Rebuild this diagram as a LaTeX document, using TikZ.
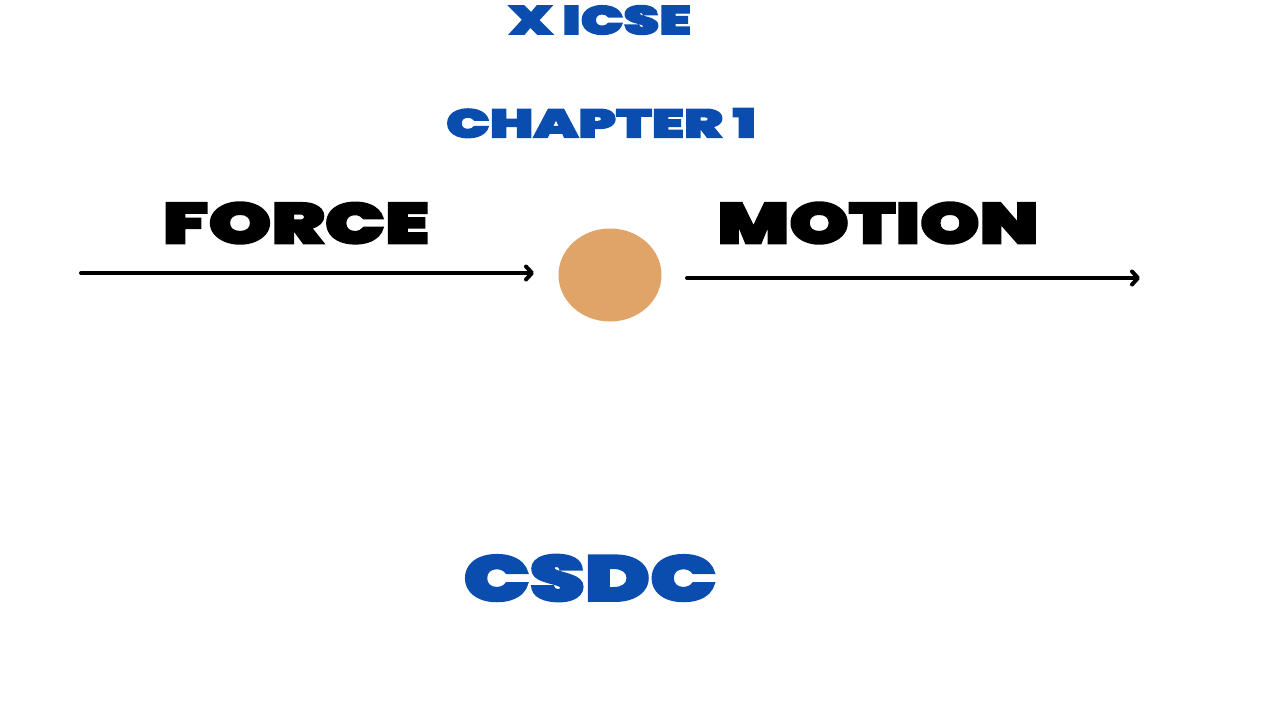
\documentclass[tikz,border=0pt]{standalone}
\usepackage{fontspec}
\newfontfamily\widefont[FakeStretch=1.25,FakeBold=3.5]{Poppins Black}
\usetikzlibrary{arrows.meta,shapes.geometric}
\definecolor{csblue}{HTML}{0A4DAE}
\definecolor{ballcol}{HTML}{E0A468}
\tikzset{heading/.style 2 args={font=\widefont\fontsize{#1}{#1}\selectfont,inner sep=0pt,text=csblue,xscale=#2,transform shape},
  title/.style 2 args={font=\widefont\fontsize{#1}{#1}\selectfont,inner sep=0pt,text=black,xscale=#2,transform shape},
  arrowline/.style={draw=black,line width=4pt,line cap=round,-{Straight Barb[length=6pt,width=13pt,line width=4pt,round]}}}
\begin{document}
\begin{tikzpicture}[x=1pt,y=-1pt]
\useasboundingbox (0,0) rectangle (1280,720);

\node[heading={40}{1.14}] (xicse) at (600,20) {X ICSE};
\node[heading={40}{1.16}] (chapter) at (601,123) {CHAPTER 1};
\node[title={57}{1.12}] (force) at (296,223) {FORCE};
\node[title={57}{1.063}] (motion) at (878,223) {MOTION};
\node[heading={64}{1.10}] (csdc) at (590,578) {CSDC};

\node[ellipse,fill=ballcol,inner sep=0pt,minimum width=103pt,minimum height=93pt] (ball) at (610,275) {};

\coordinate (f1) at (81,273);
\coordinate (f2) at (534,273);
\coordinate (m1) at (687,278);
\coordinate (m2) at (1140,278);

\draw [arrowline] (f1) -- (f2);
\draw [arrowline] (m1) -- (m2);
\end{tikzpicture}
\end{document}
